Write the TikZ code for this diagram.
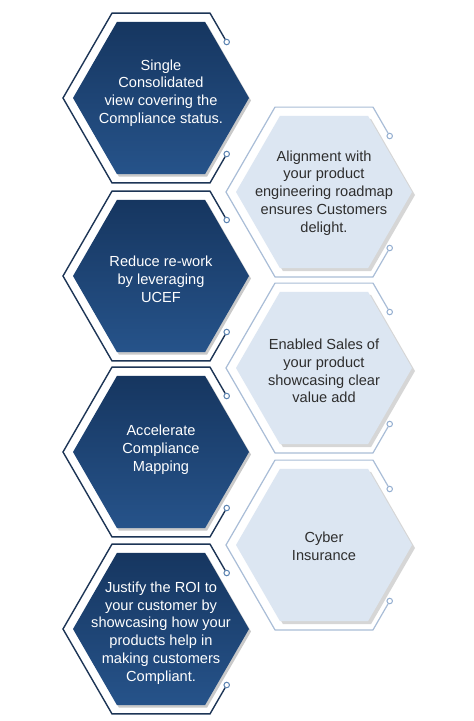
\documentclass[tikz,border=0pt]{standalone}
\usepackage{fontspec}
\setmainfont{Liberation Sans}
\usetikzlibrary{shadows}
\definecolor{darkA}{HTML}{163660}
\definecolor{darkB}{HTML}{26538A}
\definecolor{darkline}{HTML}{1D3556}
\definecolor{darkring}{HTML}{5A82B0}
\definecolor{lightfill}{HTML}{DCE6F2}
\definecolor{lightline}{HTML}{A9BDD7}
\definecolor{lightring}{HTML}{93AED0}
\definecolor{textgrey}{HTML}{2E2E2E}
\tikzset{
  dark hex/.style={top color=darkA, bottom color=darkB,
    drop shadow={shadow xshift=2pt, shadow yshift=-2.5pt, opacity=0.35, fill=black!60}},
  light hex/.style={fill=lightfill,
    drop shadow={shadow xshift=3pt, shadow yshift=-3pt, opacity=0.35, fill=black!45}},
  dark frame/.style={draw=darkline, line width=1.4pt, line join=miter},
  light frame/.style={draw=lightline, line width=1.2pt, line join=miter},
  dark dot/.style={circle, draw=darkring, fill=white, line width=1pt, minimum size=5.5pt, inner sep=0pt},
  light dot/.style={circle, draw=lightring, fill=white, line width=1pt, minimum size=5.5pt, inner sep=0pt},
  hex text/.style={align=center, font=\fontsize{14.6}{17.8}\selectfont, inner sep=0pt},
  dark text/.style={hex text, text=white},
  light text/.style={hex text, text=textgrey},
}
\begin{document}
\begin{tikzpicture}[x=1pt,y=-1pt]
\useasboundingbox[fill=white] (0,0) rectangle (474,721);
% hexagons: outline frame, filled hexagon
\foreach \n/\cx/\cy/\s in {h2/324/192/light, h4/324/368/light, h6/324/545/light,
                           h1/161/98/dark, h3/161/276/dark, h5/161/452/dark, h7/161/629/dark}{
  \coordinate (\n-tr) at (\cx+49,\cy-84.9);
  \coordinate (\n-tl) at (\cx-49,\cy-84.9);
  \coordinate (\n-l)  at (\cx-98,\cy);
  \coordinate (\n-bl) at (\cx-49,\cy+84.9);
  \coordinate (\n-br) at (\cx+49,\cy+84.9);
  \node[\s\space dot] (\n-up) at (\cx+65.7,\cy-56) {};
  \node[\s\space dot] (\n-dn) at (\cx+65.7,\cy+56) {};
  \draw[\s\space frame] (\n-up) -- (\n-tr) -- (\n-tl) -- (\n-l) -- (\n-bl) -- (\n-br) -- (\n-dn);
  \path[\s\space hex] (\cx,\cy) +(0:88) -- +(60:88) -- +(120:88) -- +(180:88) -- +(240:88) -- +(300:88) -- cycle;
}
\node[dark text] (t1) at (161,93) {Single\\Consolidated\\view covering the\\Compliance status.};
\node[light text] (t2) at (324,193) {Alignment with\\your product\\engineering roadmap\\ensures Customers\\delight.};
\node[dark text] (t3) at (161,279) {Reduce re-work\\by leveraging\\UCEF};
\node[light text] (t4) at (324,371) {Enabled Sales of\\your product\\showcasing clear\\value add};
\node[dark text] (t5) at (161,450) {Accelerate\\Compliance\\Mapping};
\node[light text] (t6) at (324,546) {Cyber\\Insurance};
\node[dark text] (t7) at (161,633) {Justify the ROI to\\your customer by\\showcasing how your\\products help in\\making customers\\Compliant.};
\end{tikzpicture}
\end{document}
